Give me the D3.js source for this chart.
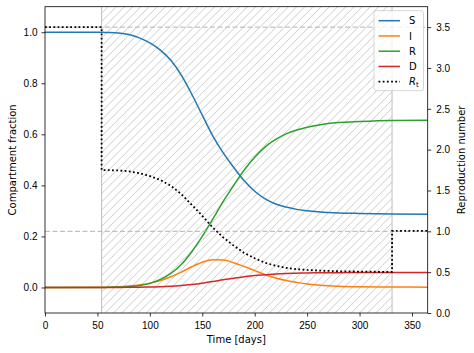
<!DOCTYPE html>
<html>
<head>
<meta charset="utf-8">
<script src="https://cdn.jsdelivr.net/npm/d3@7"></script>
<style>
  body { margin: 0; background: #fff; }
  svg { display: block; font-family: "DejaVu Sans", sans-serif; }
  .tick text { font-size: 10px; fill: #000; }
  .tick line { stroke: #000; stroke-width: 0.8; }
  .domain { stroke: none; }
</style>
</head>
<body>
<div id="chart"></div>
<script>
// time grid (days) for the compartments
var days = [0, 50, 55, 60, 70, 80, 90, 100, 110, 120, 130, 140, 150, 160, 170, 180,
            190, 200, 210, 220, 230, 240, 250, 260, 270, 280, 300, 330, 365];
var sVals = [1.0, 1.0, 0.9995, 0.999, 0.997, 0.991, 0.978, 0.958, 0.93, 0.89, 0.832, 0.757,
             0.675, 0.594, 0.527, 0.47, 0.418, 0.377, 0.347, 0.327, 0.315, 0.306, 0.301,
             0.297, 0.294, 0.292, 0.29, 0.288, 0.287];
var iVals = [0, 0.0005, 0.0007, 0.001, 0.003, 0.006, 0.01, 0.017, 0.027, 0.042, 0.06, 0.081,
             0.099, 0.109, 0.108, 0.097, 0.082, 0.066, 0.05, 0.037, 0.027, 0.02, 0.014,
             0.01, 0.007, 0.005, 0.003, 0.002, 0.001];
var rVals = [0, 0, 0.0002, 0.0005, 0.0015, 0.003, 0.008, 0.016, 0.032, 0.055, 0.09, 0.14,
             0.2, 0.268, 0.337, 0.4, 0.46, 0.51, 0.551, 0.58, 0.602, 0.617, 0.628,
             0.636, 0.642, 0.646, 0.65, 0.654, 0.655];
var dVals = [0, 0, 0, 0.0001, 0.0002, 0.0005, 0.001, 0.002, 0.003, 0.005, 0.008, 0.012,
             0.017, 0.023, 0.03, 0.036, 0.042, 0.047, 0.05, 0.053, 0.055, 0.056, 0.057,
             0.0575, 0.058, 0.058, 0.0585, 0.0586, 0.0586];

// effective reproduction number (right axis)
var rtDays = [0, 54, 54, 60, 70, 80, 90, 100, 110, 120, 130, 140, 150, 160, 170, 180, 190,
              200, 210, 220, 230, 240, 250, 260, 280, 300, 331, 331, 365];
var rtVals = [3.5, 3.5, 1.75, 1.749, 1.745, 1.735, 1.712, 1.677, 1.628, 1.558, 1.456, 1.325,
              1.19, 1.045, 0.925, 0.825, 0.735, 0.67, 0.615, 0.578, 0.553, 0.537, 0.527,
              0.52, 0.511, 0.507, 0.503, 1.005, 1.005];

var lockdown = [54, 331];
var refLines = [3.5, 1.0];

var xTicks = [0, 50, 100, 150, 200, 250, 300, 350];
var yTicks = [0.0, 0.2, 0.4, 0.6, 0.8, 1.0];
var y2Ticks = [0.0, 0.5, 1.0, 1.5, 2.0, 2.5, 3.0, 3.5];

var seriesNames = ["S", "I", "R", "D"];
var seriesColors = ["#1f77b4", "#ff7f0e", "#2ca02c", "#d62728"];
var seriesVals = [sVals, iVals, rVals, dVals];

/****** layout ******/
var W = 474, H = 353;
var pL = 45, pR = 427.7, pT = 6.7, pB = 313;

var x = d3.scaleLinear().domain([0, 365]).range([pL, pR]);
var y = d3.scaleLinear().domain([-0.1, 1.1]).range([pB, pT]);
var y2 = d3.scaleLinear().domain([0, 3.75]).range([pB, pT]);

var svg = d3.select("#chart").append("svg")
    .attr("width", W)
    .attr("height", H);

var defs = svg.append("defs");
defs.append("clipPath").attr("id", "plotclip")
    .append("rect")
    .attr("x", pL).attr("y", pT)
    .attr("width", pR - pL).attr("height", pB - pT);

var hs = 8.2;
defs.append("pattern")
    .attr("id", "hatch")
    .attr("patternUnits", "userSpaceOnUse")
    .attr("width", hs).attr("height", hs)
    .append("path")
    .attr("d", "M-1,1 l2,-2 M0," + hs + " l" + hs + ",-" + hs + " M" + (hs - 1) + "," + (hs + 1) + " l2,-2")
    .attr("stroke", "#c4c4c4")
    .attr("stroke-width", 0.9);

var plot = svg.append("g").attr("clip-path", "url(#plotclip)");

// lockdown span
plot.append("rect")
    .attr("x", x(lockdown[0]))
    .attr("y", pT)
    .attr("width", x(lockdown[1]) - x(lockdown[0]))
    .attr("height", pB - pT)
    .attr("fill", "url(#hatch)");

plot.selectAll(".vline")
    .data(lockdown)
    .enter().append("line")
    .attr("x1", d => x(d)).attr("x2", d => x(d))
    .attr("y1", pT).attr("y2", pB)
    .attr("stroke", "#bdbdbd")
    .attr("stroke-width", 1);

// compartments
var line = d3.line()
    .x(function (d) { return x(d[0]); })
    .y(function (d) { return y(d[1]); })
    .curve(d3.curveMonotoneX);

seriesVals.forEach(function (vals, k) {
    plot.append("path")
        .datum(days.map(function (d, i) { return [d, vals[i]]; }))
        .attr("d", line)
        .attr("fill", "none")
        .attr("stroke", seriesColors[k])
        .attr("stroke-width", 1.5);
});

// reference dashed lines (right axis)
plot.selectAll(".hline")
    .data(refLines)
    .enter().append("line")
    .attr("x1", pL).attr("x2", pR)
    .attr("y1", d => y2(d)).attr("y2", d => y2(d))
    .attr("stroke", "#b4b4b4")
    .attr("stroke-width", 1)
    .attr("stroke-dasharray", "5,2.5");

var rtLine = d3.line()
    .x(function (d) { return x(d[0]); })
    .y(function (d) { return y2(d[1]); });

plot.append("path")
    .datum(rtDays.map(function (d, i) { return [d, rtVals[i]]; }))
    .attr("d", rtLine)
    .attr("fill", "none")
    .attr("stroke", "#000")
    .attr("stroke-width", 1.8)
    .attr("stroke-dasharray", "1.8,2.4");

/****** axes ******/
svg.append("g")
    .attr("transform", "translate(0," + pB + ")")
    .call(d3.axisBottom(x).tickValues(xTicks).tickFormat(d3.format("d"))
        .tickSize(3.5).tickPadding(5).tickSizeOuter(0));

svg.append("g")
    .attr("transform", "translate(" + pL + ",0)")
    .call(d3.axisLeft(y).tickValues(yTicks).tickFormat(d3.format(".1f"))
        .tickSize(3.5).tickPadding(4).tickSizeOuter(0));

svg.append("g")
    .attr("transform", "translate(" + pR + ",0)")
    .call(d3.axisRight(y2).tickValues(y2Ticks).tickFormat(d3.format(".1f"))
        .tickSize(3.5).tickPadding(5).tickSizeOuter(0));

svg.append("rect")
    .attr("x", pL).attr("y", pT)
    .attr("width", pR - pL).attr("height", pB - pT)
    .attr("fill", "none")
    .attr("stroke", "#000")
    .attr("stroke-width", 0.8);

svg.append("text")
    .attr("x", (pL + pR) / 2).attr("y", 343)
    .attr("text-anchor", "middle")
    .attr("font-size", 10)
    .text("Time [days]");

svg.append("text")
    .attr("transform", "translate(16," + ((pT + pB) / 2) + ") rotate(-90)")
    .attr("text-anchor", "middle")
    .attr("font-size", 10)
    .text("Compartment fraction");

svg.append("text")
    .attr("transform", "translate(465," + ((pT + pB) / 2) + ") rotate(-90)")
    .attr("text-anchor", "middle")
    .attr("font-size", 10)
    .text("Reproduction number");

/****** legend ******/
var lg = svg.append("g").attr("transform", "translate(374,10.7)");
lg.append("rect")
    .attr("width", 49.5).attr("height", 80)
    .attr("rx", 2.5).attr("ry", 2.5)
    .attr("fill", "#fff").attr("fill-opacity", 0.8)
    .attr("stroke", "#cccccc").attr("stroke-width", 0.8);

var entries = seriesNames.map(function (n, k) { return { name: n, color: seriesColors[k], dotted: false }; });
entries.push({ name: "Rt", color: "#000", dotted: true });

var items = lg.selectAll(".item")
    .data(entries)
    .enter().append("g")
    .attr("transform", function (d, i) { return "translate(0," + (10 + i * 15.25) + ")"; });

items.append("line")
    .attr("x1", 4.5).attr("x2", 26)
    .attr("stroke", d => d.color)
    .attr("stroke-width", d => d.dotted ? 1.8 : 1.5)
    .attr("stroke-dasharray", d => d.dotted ? "1.8,2.4" : null);

items.each(function (d) {
    var t = d3.select(this).append("text")
        .attr("x", 35).attr("y", 3.6)
        .attr("font-size", 10);
    if (d.dotted) {
        t.append("tspan").attr("font-style", "italic").text("R");
        t.append("tspan").attr("font-size", 7).attr("dy", 2).text("t");
    } else {
        t.text(d.name);
    }
});
</script>
</body>
</html>
